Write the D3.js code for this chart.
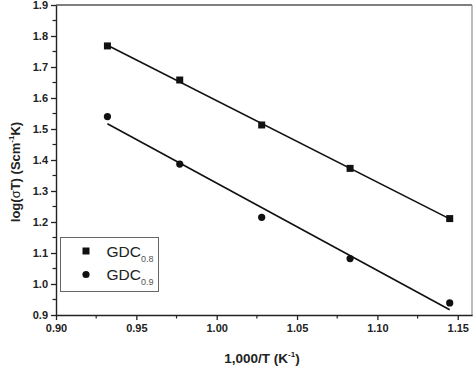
<!DOCTYPE html>
<html><head><meta charset="utf-8">
<script src="https://cdn.jsdelivr.net/npm/d3@7"></script>
<style>body{margin:0;background:#fff}svg{display:block}text{font-family:"Liberation Sans",Arial,sans-serif}</style>
</head><body><svg id="c" width="474" height="366"></svg>
<script>
const xTicks = [0.90, 0.95, 1.00, 1.05, 1.10, 1.15];
const yTicks = [0.9, 1.0, 1.1, 1.2, 1.3, 1.4, 1.5, 1.6, 1.7, 1.8, 1.9];
const invT = [0.932, 0.977, 1.028, 1.083, 1.145];
const gdc08 = [1.768, 1.658, 1.513, 1.373, 1.211];
const gdc09 = [1.540, 1.387, 1.215, 1.082, 0.939];
const seriesNames = ["GDC", "GDC"];
const seriesSubs = ["0.8", "0.9"];

const svg = d3.select("#c");
const L = 56, R = 472, T = 5, B = 315;
const x = d3.scaleLinear().domain([0.9, 1.159]).range([L, L + 0.259 / 0.05 * 80.35]);
const y = d3.scaleLinear().domain([0.9, 1.9]).range([B, T]);

// frame
svg.append("line").attr("x1", L).attr("x2", R).attr("y1", T).attr("y2", T).attr("stroke", "#555").attr("stroke-width", 1.3);
svg.append("line").attr("x1", R).attr("x2", R).attr("y1", T).attr("y2", B).attr("stroke", "#999").attr("stroke-width", 1.3);

// minor ticks
const xMinor = d3.range(0.925, 1.16, 0.05);
const yMinor = d3.range(0.95, 1.9, 0.1);
svg.append("g").selectAll("line").data(xMinor).join("line")
  .attr("x1", d => x(d)).attr("x2", d => x(d)).attr("y1", B).attr("y2", B + 3.5)
  .attr("stroke", "#222").attr("stroke-width", 1.2);
svg.append("g").selectAll("line").data(yMinor).join("line")
  .attr("y1", d => y(d)).attr("y2", d => y(d)).attr("x1", L).attr("x2", L - 3.5)
  .attr("stroke", "#222").attr("stroke-width", 1.2);

const xAxis = svg.append("g").attr("transform", `translate(0,${B})`)
  .call(d3.axisBottom(x).tickValues(xTicks).tickFormat(d3.format(".2f")).tickSize(5).tickPadding(4).tickSizeOuter(0));
const yAxis = svg.append("g").attr("transform", `translate(${L},0)`)
  .call(d3.axisLeft(y).tickValues(yTicks).tickFormat(d3.format(".1f")).tickSize(5).tickPadding(3).tickSizeOuter(0));
[xAxis, yAxis].forEach(a => {
  a.select(".domain").attr("stroke", "#222").attr("stroke-width", 1.4);
  a.selectAll(".tick line").attr("stroke", "#222").attr("stroke-width", 1.3);
  a.selectAll("text").attr("font-size", 11).attr("font-weight", "bold").attr("fill", "#222")
    .style("font-family", '"Liberation Sans", Arial, sans-serif');
});

// regression lines
function fit(xs, ys) {
  const mx = d3.mean(xs), my = d3.mean(ys);
  let sxy = 0, sxx = 0;
  xs.forEach((v, i) => { sxy += (v - mx) * (ys[i] - my); sxx += (v - mx) * (v - mx); });
  const b = sxy / sxx, a = my - b * mx;
  return v => a + b * v;
}
[gdc08, gdc09].forEach(s => {
  const f = fit(invT, s);
  const x0 = invT[0], x1 = invT[invT.length - 1];
  svg.append("line").attr("x1", x(x0)).attr("y1", y(f(x0))).attr("x2", x(x1)).attr("y2", y(f(x1)))
    .attr("stroke", "#111").attr("stroke-width", 1.6);
});

// markers
svg.append("g").selectAll("rect").data(invT.map((v, i) => [v, gdc08[i]])).join("rect")
  .attr("x", d => x(d[0]) - 3.5).attr("y", d => y(d[1]) - 3.5).attr("width", 7).attr("height", 7).attr("fill", "#111");
svg.append("g").selectAll("circle").data(invT.map((v, i) => [v, gdc09[i]])).join("circle")
  .attr("cx", d => x(d[0])).attr("cy", d => y(d[1])).attr("r", 3.6).attr("fill", "#111");

// legend
svg.append("rect").attr("x", 60.5).attr("y", 237.5).attr("width", 98).attr("height", 54)
  .attr("fill", "none").attr("stroke", "#666").attr("stroke-width", 1);
svg.append("rect").attr("x", 82.5).attr("y", 247.5).attr("width", 7).attr("height", 7).attr("fill", "#111");
svg.append("circle").attr("cx", 86).attr("cy", 274.5).attr("r", 3.6).attr("fill", "#111");
[257, 279.5].forEach((by, i) => {
  const t = svg.append("text").attr("x", 106.5).attr("y", by).attr("font-size", 15.5).attr("fill", "#222");
  t.append("tspan").text(seriesNames[i]);
  t.append("tspan").attr("font-size", 9).attr("dy", 5).attr("fill", "#555").text(seriesSubs[i]);
});

// axis titles
const xt = svg.append("text").attr("x", 262).attr("y", 363).attr("text-anchor", "middle")
  .attr("font-size", 13.5).attr("font-weight", "bold").attr("fill", "#222");
xt.append("tspan").text("1,000/T (K");
xt.append("tspan").attr("font-size", 8).attr("dy", -6).text("-1");
xt.append("tspan").attr("dy", 6).text(")");

const yt = svg.append("text").attr("transform", "translate(20,172) rotate(-90)").attr("text-anchor", "middle")
  .attr("font-size", 13).attr("font-weight", "bold").attr("fill", "#222");
yt.append("tspan").text("log(");
yt.append("tspan").attr("font-weight", "normal").text("σ");
yt.append("tspan").text("T) (Scm");
yt.append("tspan").attr("font-size", 8).attr("dy", -6).text("-1");
yt.append("tspan").attr("dy", 6).text("K)");
</script></body></html>
